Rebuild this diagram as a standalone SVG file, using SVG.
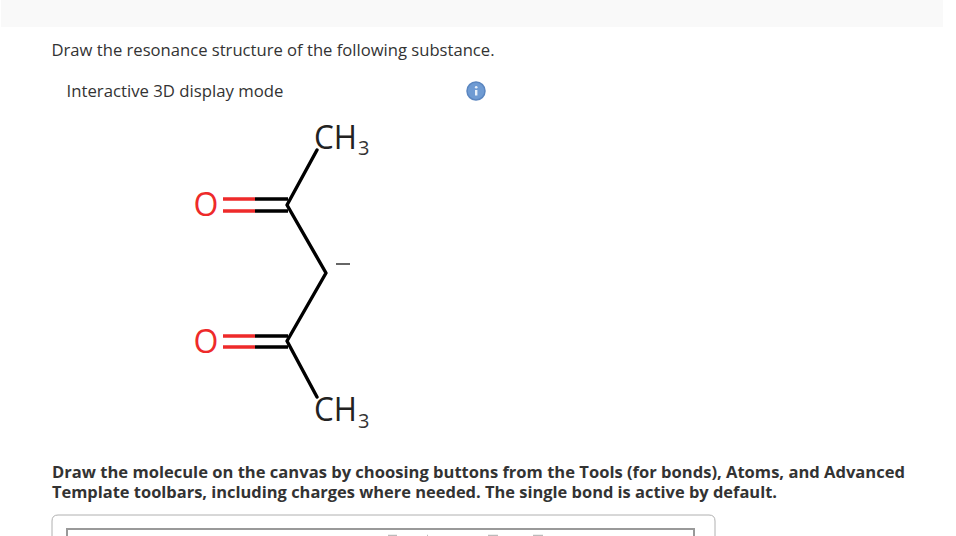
<svg xmlns="http://www.w3.org/2000/svg" width="956" height="536" viewBox="0 0 956 536">
<style>
.t{font-family:"Open Sans","Noto Sans",sans-serif;font-size:17px;fill:#333}
.b{font-family:"Open Sans","Noto Sans",sans-serif;font-size:16px;font-weight:700;fill:#333}
.bond{stroke:#000;stroke-width:3.4;fill:none;stroke-linecap:round;stroke-linejoin:round}
.red{stroke:#ee2a2a;stroke-width:3.4;fill:none}
.blk{stroke:#000;stroke-width:3.4;fill:none}
.ch{font-family:"Open Sans","Noto Sans",sans-serif;font-size:32px;fill:#222}
.sub{font-family:"Open Sans","Noto Sans",sans-serif;font-size:20px;fill:#333}
.o{font-family:"Open Sans","Noto Sans",sans-serif;font-size:32px;fill:#ee2a2a;text-anchor:middle}
</style>
<rect width="956" height="536" fill="#fff"/>
<rect x="1" y="0" width="942" height="27" fill="#f9f9f9"/>
<text class="t" x="51.5" y="56" textLength="443" lengthAdjust="spacingAndGlyphs">Draw the resonance structure of the following substance.</text>
<text class="t" x="66.5" y="97" textLength="217" lengthAdjust="spacingAndGlyphs">Interactive 3D display mode</text>
<g id="info">
<circle cx="476" cy="91" r="9" fill="#6f9bd3" stroke="#5b86c0" stroke-width="1.5"/>
<rect x="475" y="90" width="2.4" height="5.5" fill="#e8f0fa"/>
<circle cx="476.2" cy="87.3" r="1.3" fill="#e8f0fa"/>
</g>
<g id="connectors">
<path class="bond" d="M317 150L287 205L326 273L287 341L317 397"/>
<path class="red" d="M223 199H255M223 211H255M223 336H255M223 347H255"/>
<path class="blk" d="M255 199H288M255 211H288M255 336H288M255 347H288"/>
</g>
<g id="ch3-top"><text class="ch" x="314" y="149" textLength="43" lengthAdjust="spacingAndGlyphs">CH</text><text class="sub" x="358" y="155">3</text></g>
<g id="o-top"><text class="o" x="206" y="216">O</text></g>
<g id="charge"><path d="M336 264H350" stroke="#333" stroke-width="1.5"/></g>
<g id="o-bottom"><text class="o" x="206" y="353">O</text></g>
<g id="ch3-bottom"><text class="ch" x="314" y="421" textLength="43" lengthAdjust="spacingAndGlyphs">CH</text><text class="sub" x="358" y="428">3</text></g>
<text class="b" x="52" y="478" textLength="853" lengthAdjust="spacingAndGlyphs">Draw the molecule on the canvas by choosing buttons from the Tools (for bonds), Atoms, and Advanced</text>
<text class="b" x="52" y="498" textLength="725" lengthAdjust="spacingAndGlyphs">Template toolbars, including charges where needed. The single bond is active by default.</text>
<g id="panel">
<path d="M52 536V521Q52 515 58 515H709Q715 515 715 521V536" fill="none" stroke="#b0b0b0" stroke-width="1"/>
<path d="M67 536V529H694V536" fill="none" stroke="#999" stroke-width="2"/>
<path d="M388 535.5H397M427 535.5H428M488 535.5H498M533 535.5H543" stroke="#bbb" stroke-width="1.5"/>
</g>
</svg>
